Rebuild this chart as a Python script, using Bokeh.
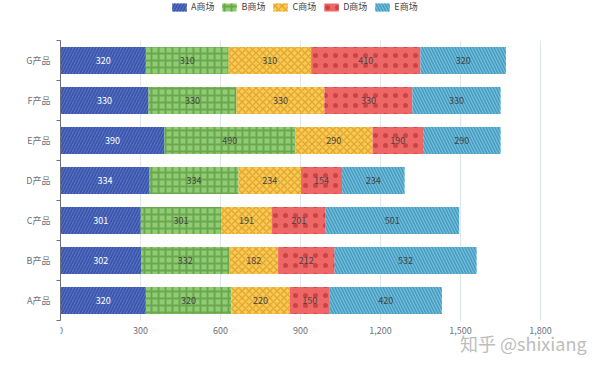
import numpy as np
from bokeh.plotting import figure
from bokeh.models import (Range1d, FixedTicker, NumeralTickFormatter, Legend,
                          LegendItem, ColumnDataSource)
from bokeh.core.properties import value
from bokeh.embed import file_html
from bokeh.resources import INLINE

products = ["A产品", "B产品", "C产品", "D产品", "E产品", "F产品", "G产品"]
series = ["A商场", "B商场", "C商场", "D商场", "E商场"]
mall_a = [320, 302, 301, 334, 390, 330, 320]
mall_b = [320, 332, 301, 334, 490, 330, 310]
mall_c = [220, 182, 191, 234, 290, 330, 310]
mall_d = [150, 212, 201, 154, 190, 330, 410]
mall_e = [420, 532, 501, 234, 290, 330, 320]
x_ticks = [0, 300, 600, 900, 1200, 1500, 1800]
watermark = "知乎 @shixiang"

colors = ["#5470c6", "#91cc75", "#fac858", "#ee6666", "#73c0de"]
hatches = ["/", "+", "x", ".", "\\"]
hatch_colors = ["#3a55a8", "#6aa84f", "#e0a92a", "#c94444", "#4a9cc0"]
hatch_scales = [6, 7, 7, 10, 6]
hatch_weights = [1.6, 2, 1.3, 1.3, 1.6]
label_colors = ["#ffffff", "#444444", "#444444", "#444444", "#444444"]

FONT = "Noto Sans CJK SC"
FS = "9px"
n = len(products)

# frame covers the top, right and bottom edges so legend/watermark are not clipped;
# the x axis is pinned at y=0
p = figure(width=600, height=369, output_backend="svg", toolbar_location=None,
           x_range=Range1d(0, 2025), y_range=Range1d(-1.225, n + 1),
           min_border_left=60, min_border_right=0, min_border_top=0,
           min_border_bottom=0)
p.outline_line_color = None
p.background_fill_color = "white"

# vertical grid lines, only over the category band area
p.segment(x0=x_ticks, y0=[0] * len(x_ticks), x1=x_ticks, y1=[n] * len(x_ticks),
          line_color="#e0e6f1", line_width=1)
p.xgrid.grid_line_color = None
p.ygrid.grid_line_color = None

ypos = np.arange(n) + 0.5
values = [mall_a, mall_b, mall_c, mall_d, mall_e]
left = np.zeros(n)
items = []
for i, (name, vals) in enumerate(zip(series, values)):
    vals = np.array(vals, dtype=float)
    right = left + vals
    src = ColumnDataSource(dict(y=ypos, left=left.copy(), right=right,
                                mid=left + vals / 2, txt=[str(int(v)) for v in vals]))
    r = p.hbar(y="y", left="left", right="right", height=0.68, source=src,
               fill_color=colors[i], line_color=None,
               hatch_pattern=hatches[i], hatch_color=hatch_colors[i],
               hatch_scale=hatch_scales[i], hatch_weight=hatch_weights[i])
    p.text(x="mid", y="y", text="txt", source=src, text_align="center",
           text_baseline="middle", text_font_size=FS,
           text_font=value(FONT), text_color=label_colors[i])
    items.append(LegendItem(label=name, renderers=[r]))
    left = right

legend = Legend(items=items, orientation="horizontal", location=(110, 356),
                glyph_width=18, glyph_height=10, label_height=10,
                label_text_font_size=FS, label_text_font=FONT,
                label_text_color="#444444", spacing=6, label_standoff=3,
                padding=0, margin=0, border_line_color=None,
                background_fill_alpha=0)
p.add_layout(legend, "center")

# watermark as a glyph-less legend entry
wm_r = p.scatter(x=[], y=[], fill_alpha=0, line_alpha=0)
wm_legend = Legend(items=[LegendItem(label=watermark, renderers=[wm_r])],
                   location=(400, 13), glyph_width=0, glyph_height=24,
                   label_height=24, label_standoff=0,
                   label_text_font_size="18px", label_text_font=FONT,
                   label_text_color="#bdbdbd", padding=0, margin=0,
                   border_line_color=None, background_fill_alpha=0)
p.add_layout(wm_legend, "center")

# x axis (pinned at y=0)
p.xaxis.fixed_location = 0
p.xaxis.ticker = FixedTicker(ticks=x_ticks)
p.xaxis.formatter = NumeralTickFormatter(format="0,0")
p.xaxis.axis_line_color = None
p.xaxis.major_tick_line_color = None
p.xaxis.major_tick_out = 0
p.xaxis.minor_tick_line_color = None
p.xaxis.major_label_text_color = "#6e7079"
p.xaxis.major_label_text_font_size = FS
p.xaxis.major_label_text_font = FONT
p.xaxis.major_label_standoff = 6

# y axis
p.yaxis.bounds = (0, n)
p.yaxis.ticker = FixedTicker(ticks=list(ypos), minor_ticks=list(range(n + 1)))
p.yaxis.major_label_overrides = {float(y): s for y, s in zip(ypos, products)}
p.yaxis.major_tick_line_color = None
p.yaxis.major_tick_out = 0
p.yaxis.minor_tick_line_color = "#6e7079"
p.yaxis.minor_tick_out = 4
p.yaxis.minor_tick_in = 0
p.yaxis.axis_line_color = "#6e7079"
p.yaxis.major_label_text_color = "#6e7079"
p.yaxis.major_label_text_font_size = FS
p.yaxis.major_label_text_font = FONT
p.yaxis.major_label_standoff = 6

open("out.html", "w").write(file_html(p, INLINE))
